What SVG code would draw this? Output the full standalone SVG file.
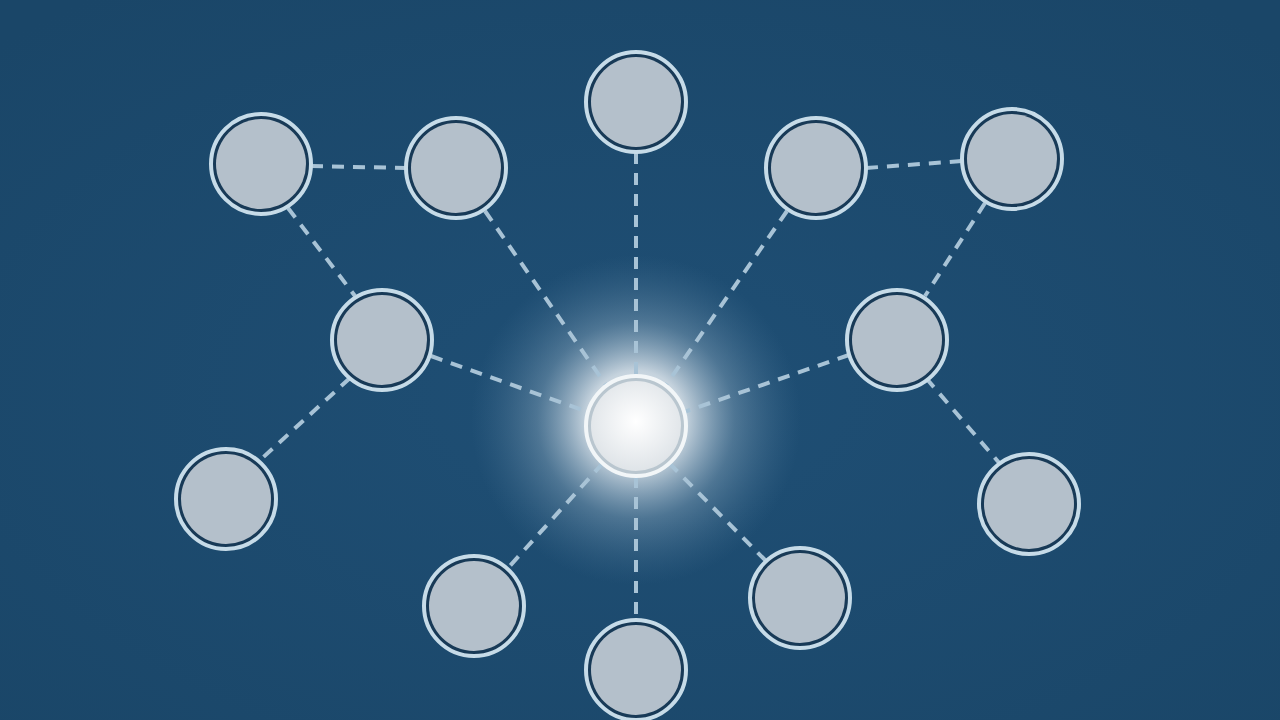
<svg xmlns="http://www.w3.org/2000/svg" width="1280" height="720" viewBox="0 0 1280 720">
<defs>
<radialGradient id="bg" cx="50%" cy="55%" r="70%">
<stop offset="0" stop-color="#1f4f75"/>
<stop offset="1" stop-color="#1a4668"/>
</radialGradient>
<radialGradient id="glow" cx="0.5" cy="0.5" r="0.5">
<stop offset="0" stop-color="#ffffff" stop-opacity="1"/>
<stop offset="0.3" stop-color="#eef3f7" stop-opacity="0.8"/>
<stop offset="0.6" stop-color="#a6bfd1" stop-opacity="0.35"/>
<stop offset="1" stop-color="#5d86a6" stop-opacity="0"/>
</radialGradient>
<radialGradient id="cfill" cx="0.5" cy="0.45" r="0.55">
<stop offset="0" stop-color="#ffffff"/>
<stop offset="1" stop-color="#dfe4e8"/>
</radialGradient>
</defs>
<style>
.ring{fill:#183a57;stroke:#c6dbe8;stroke-width:4}
.core{fill:#b4c0cb}
.edge{stroke:#a8c3d6;stroke-width:4;stroke-dasharray:12 9;fill:none}
</style>
<rect width="1280" height="720" fill="url(#bg)"/>
<circle cx="636" cy="420" r="165" fill="url(#glow)"/>
<g id="connectors">
<line class="edge" x1="311" y1="166" x2="406" y2="168"/>
<line class="edge" x1="866" y1="168" x2="962" y2="161"/>
<line class="edge" x1="288" y1="208" x2="355" y2="296"/>
<line class="edge" x1="350" y1="378" x2="258" y2="462"/>
<line class="edge" x1="431" y1="356" x2="588" y2="412"/>
<line class="edge" x1="485" y1="211" x2="606" y2="385"/>
<line class="edge" x1="636" y1="152" x2="636" y2="376"/>
<line class="edge" x1="787" y1="211" x2="666" y2="385"/>
<line class="edge" x1="985" y1="203" x2="925" y2="296"/>
<line class="edge" x1="849" y1="355" x2="684" y2="412"/>
<line class="edge" x1="926" y1="378" x2="1001" y2="465"/>
<line class="edge" x1="603" y1="463" x2="508" y2="568"/>
<line class="edge" x1="669" y1="463" x2="766" y2="561"/>
<line class="edge" x1="636" y1="476" x2="636" y2="620"/>
</g>
<g id="n1"><circle class="ring" cx="261" cy="164" r="50"/><circle class="core" cx="261" cy="164" r="45"/></g>
<g id="n2"><circle class="ring" cx="456" cy="168" r="50"/><circle class="core" cx="456" cy="168" r="45"/></g>
<g id="n3"><circle class="ring" cx="636" cy="102" r="50"/><circle class="core" cx="636" cy="102" r="45"/></g>
<g id="n4"><circle class="ring" cx="816" cy="168" r="50"/><circle class="core" cx="816" cy="168" r="45"/></g>
<g id="n5"><circle class="ring" cx="1012" cy="159" r="50"/><circle class="core" cx="1012" cy="159" r="45"/></g>
<g id="n6"><circle class="ring" cx="382" cy="340" r="50"/><circle class="core" cx="382" cy="340" r="45"/></g>
<g id="n7"><circle class="ring" cx="897" cy="340" r="50"/><circle class="core" cx="897" cy="340" r="45"/></g>
<g id="n9"><circle class="ring" cx="226" cy="499" r="50"/><circle class="core" cx="226" cy="499" r="45"/></g>
<g id="n10"><circle class="ring" cx="1029" cy="504" r="50"/><circle class="core" cx="1029" cy="504" r="45"/></g>
<g id="n11"><circle class="ring" cx="474" cy="606" r="50"/><circle class="core" cx="474" cy="606" r="45"/></g>
<g id="n12"><circle class="ring" cx="800" cy="598" r="50"/><circle class="core" cx="800" cy="598" r="45"/></g>
<g id="n13"><circle class="ring" cx="636" cy="670" r="50"/><circle class="core" cx="636" cy="670" r="45"/></g>
<g id="center"><circle cx="636" cy="426" r="50" fill="#b9c6cf" stroke="#f2f6f8" stroke-width="4"/><circle cx="636" cy="426" r="45" fill="url(#cfill)"/></g>
</svg>
